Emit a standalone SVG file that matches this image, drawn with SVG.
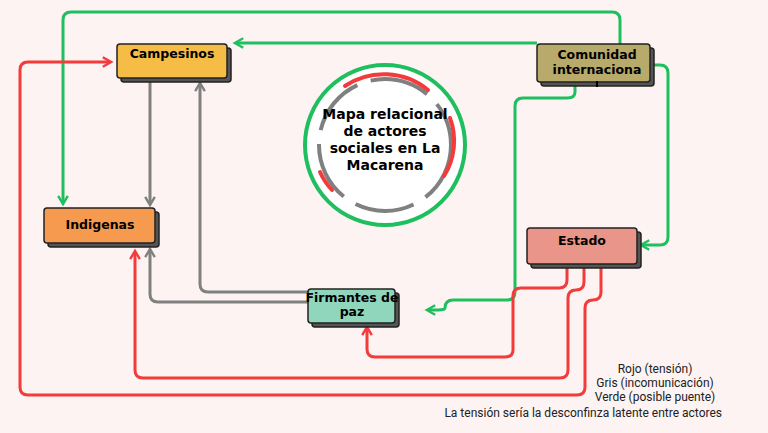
<svg xmlns="http://www.w3.org/2000/svg" width="768" height="433" viewBox="0 0 768 433">
<defs>
<marker id="ag" viewBox="0 0 10 10" refX="7" refY="5" markerWidth="4" markerHeight="4" orient="auto"><path d="M1,1 L8,5 L1,9" fill="none" stroke="#1fbf5f" stroke-width="2"/></marker>
<marker id="ar" viewBox="0 0 10 10" refX="7" refY="5" markerWidth="4" markerHeight="4" orient="auto"><path d="M1,1 L8,5 L1,9" fill="none" stroke="#f43b3b" stroke-width="2"/></marker>
<marker id="ay" viewBox="0 0 10 10" refX="7" refY="5" markerWidth="4" markerHeight="4" orient="auto"><path d="M1,1 L8,5 L1,9" fill="none" stroke="#808080" stroke-width="2"/></marker>
</defs>
<style>
.g{fill:none;stroke:#1fbf5f;stroke-width:3;stroke-linejoin:round;marker-end:url(#ag)}
.r{fill:none;stroke:#f43b3b;stroke-width:3;stroke-linejoin:round;marker-end:url(#ar)}
.y{fill:none;stroke:#808080;stroke-width:3;stroke-linejoin:round;marker-end:url(#ay)}
.sh{fill:#555;stroke:#222;stroke-width:1.5}
.bx{stroke:#222;stroke-width:1.5}
.t{font-family:"DejaVu Sans",sans-serif;font-weight:bold;font-size:12.5px;fill:#000;text-anchor:middle}
.l{font-family:Roboto,sans-serif;font-size:12px;fill:#222}
</style>
<rect width="768" height="433" fill="#fdf3f2"/>
<g id="connectors">
<path class="g" d="M620,44 V20 Q620,12 612,12 H71 Q63,12 63,20 V203"/>
<path class="g" d="M537,43 H236"/>
<path class="g" d="M650,65 H660 Q668,65 668,73 V237 Q668,245 660,245 H642"/>
<path class="g" d="M575,82 V92 Q575,98 567,98 H523 Q515,98 515,106 V292 Q515,300 507,300 H453 Q445,300 445,308 Q445,310 438,310 H428"/>
<path class="y" d="M150,80 V204"/>
<path class="y" d="M308,292 H208 Q200,292 200,284 V84"/>
<path class="y" d="M308,302 H158 Q150,302 150,294 V250"/>
<path class="r" d="M567,266 V280 Q567,288 559,288 H521 Q513,288 513,296 V350 Q513,357 505,357 H375 Q367,357 367,349 V328"/>
<path class="r" d="M584,266 V282 Q584,290 576,290 Q568,290 568,298 V370 Q568,378 560,378 H143 Q135,378 135,370 V252"/>
<path class="r" d="M601,266 V292 Q601,300 593,300 Q585,300 585,308 V387 Q585,395 577,395 H28 Q20,395 20,387 V70 Q20,62 28,62 H110"/>
</g>
<g id="center">
<circle cx="385" cy="145" r="80" fill="#fff" stroke="#1fbf5f" stroke-width="4"/>
<circle cx="385" cy="145" r="66" fill="none" stroke="#808080" stroke-width="4" stroke-dasharray="60 14"/>
<path d="M345,82 A70,70 0 0 1 428,86" fill="none" stroke="#f43b3b" stroke-width="4" stroke-linecap="round" transform="translate(0,4)"/>
<path d="M450,118 A66,66 0 0 1 444,176" fill="none" stroke="#f43b3b" stroke-width="4" stroke-linecap="round"/>
<path d="M320,172 A66,66 0 0 0 332,190" fill="none" stroke="#f43b3b" stroke-width="4" stroke-linecap="round"/>
<text class="t" font-size="14"><tspan x="385" y="119" style="font-size:14px">Mapa relacional</tspan><tspan x="385" y="136" style="font-size:14px">de actores</tspan><tspan x="385" y="153" style="font-size:14px">sociales en La</tspan><tspan x="385" y="170" style="font-size:14px">Macarena</tspan></text>
</g>
<g id="campesinos"><rect class="sh" x="121" y="48" width="110" height="34" rx="3"/><rect class="bx" x="117" y="44" width="110" height="34" rx="3" fill="#f5bd45"/><text class="t" x="172" y="58">Campesinos</text></g>
<g id="comunidad"><rect class="sh" x="541" y="48" width="113" height="38" rx="3"/><rect class="bx" x="537" y="44" width="113" height="38" rx="3" fill="#b7aa6b"/><text class="t" x="597" y="59">Comunidad</text><text class="t" x="597" y="74">internaciona</text><rect x="596" y="81" width="2" height="6" fill="#000"/></g>
<g id="indigenas"><rect class="sh" x="48" y="212" width="111" height="35" rx="3"/><rect class="bx" x="44" y="208" width="111" height="35" rx="3" fill="#f59a4f"/><text class="t" x="100" y="229" text-anchor="middle">Indigenas</text></g>
<g id="estado"><rect class="sh" x="531" y="232" width="110" height="36" rx="3"/><rect class="bx" x="527" y="228" width="110" height="36" rx="3" fill="#e9958a"/><text class="t" x="582" y="245">Estado</text></g>
<g id="firmantes"><rect class="sh" x="312" y="293" width="87" height="34" rx="3"/><rect class="bx" x="308" y="289" width="87" height="34" rx="3" fill="#8fd6bc"/><text class="t" x="352" y="302">Firmantes de</text><text class="t" x="352" y="316">paz</text></g>
<g id="legend">
<text class="l" x="655" y="373" text-anchor="middle">Rojo (tensión)</text>
<text class="l" x="655" y="387" text-anchor="middle">Gris (incomunicación)</text>
<text class="l" x="655" y="401" text-anchor="middle">Verde (posible puente)</text>
<text class="l" x="722" y="417" text-anchor="end">La tensión sería la desconfinza latente entre actores</text>
</g>
</svg>
